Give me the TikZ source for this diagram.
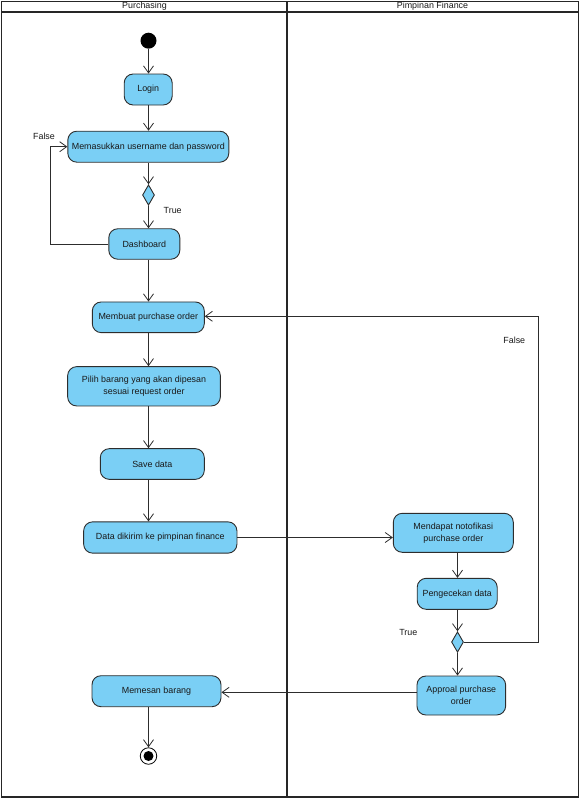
\documentclass[tikz,border=0pt]{standalone}
\usepackage{fontspec}
\setmainfont{Liberation Sans}
\usetikzlibrary{arrows.meta,shapes.geometric}
\definecolor{actfill}{RGB}{122,207,245}
\definecolor{actline}{RGB}{45,45,45}
\definecolor{txt}{RGB}{25,25,25}
\begin{document}
\begin{tikzpicture}[x=1pt,y=-1pt,
  font=\fontsize{8.9}{12}\selectfont,
  act/.style={draw=actline, fill=actfill, rounded corners=9pt, line width=0.9pt,
    inner sep=0pt, align=center, text=txt},
  dec/.style={diamond, draw=actline, fill=actfill, line width=0.9pt, inner sep=0pt,
    minimum width=12pt, minimum height=20.5pt},
  flow/.style={draw=actline, line width=0.8pt, -{Straight Barb[length=7pt,width=10pt]}},
  plain/.style={draw=actline, line width=0.8pt},
  lane/.style={draw=black!85, line width=1.6pt},
  lbl/.style={text=txt, inner sep=0pt}
]
\useasboundingbox (0,0) rectangle (582,800);

% swimlanes
\draw[lane] (1.5,1.5) rectangle (578.5,797);
\draw[lane] (1.5,12) -- (578.5,12);
\draw[lane] (287,1.5) -- (287,797);
\node[lbl] (h1) at (144.5,6.6) {Purchasing};
\node[lbl] (h2) at (432.5,6.6) {Pimpinan Finance};

% column coordinates
\coordinate (cx) at (148.5,0);
\coordinate (fx) at (457.5,0);

% nodes
\node[circle, fill=black, minimum size=16pt, inner sep=0pt] (start) at (148.5,40.7) {};
\node[act, minimum width=48pt, minimum height=31pt] (login) at (148.2,89.5) {Login};
\node[act, minimum width=161pt, minimum height=31pt] (mem) at (148.3,146.7) {Memasukkan username dan password};
\node[dec] (d1) at (148.5,195) {};
\node[act, minimum width=71pt, minimum height=30.5pt] (dash) at (144.3,244) {Dashboard};
\node[act, minimum width=112pt, minimum height=30.7pt] (po) at (148.3,317.3) {Membuat purchase order};
\node[act, minimum width=152.7pt, minimum height=39.3pt] (pilih) at (144,386.3) {Pilih barang yang akan dipesan\\sesuai request order};
\node[act, minimum width=104pt, minimum height=30.7pt] (save) at (152.3,464) {Save data};
\node[act, minimum width=153.3pt, minimum height=31.3pt] (data) at (160.3,537.5) {Data dikirim ke pimpinan finance};
\node[act, minimum width=120pt, minimum height=39pt] (mend) at (453.3,532.8) {Mendapat notofikasi\\purchase order};
\node[act, minimum width=80pt, minimum height=31pt] (peng) at (457.2,593.8) {Pengecekan data};
\node[dec] (d2) at (457.5,642) {};
\node[act, minimum width=88.7pt, minimum height=39pt] (appr) at (461.3,695.5) {Approal purchase\\order};
\node[act, minimum width=129pt, minimum height=31pt] (mb) at (156.5,691.2) {Memesan barang};
\node[circle, draw=black, fill=white, line width=0.8pt, minimum size=16.5pt, inner sep=0pt] (end) at (148.5,756) {};
\node[circle, fill=black, minimum size=10pt, inner sep=0pt] (endin) at (end) {};

% labels
\node[lbl] (lf1) at (44,136.5) {False};
\node[lbl] (lt1) at (172.7,210) {True};
\node[lbl] (lf2) at (514.3,340) {False};
\node[lbl] (lt2) at (408.3,632.3) {True};

% connectors
\draw[flow] (start) -- (cx |- login.north);
\draw[flow] (cx |- login.south) -- (cx |- mem.north);
\draw[flow] (cx |- mem.south) -- (d1.north);
\draw[flow] (d1.south) -- (cx |- dash.north);
\draw[flow] (dash.west) -- ++(-57.7,0) |- (mem.west);
\draw[flow] (cx |- dash.south) -- (cx |- po.north);
\draw[flow] (cx |- po.south) -- (cx |- pilih.north);
\draw[flow] (cx |- pilih.south) -- (cx |- save.north);
\draw[flow] (cx |- save.south) -- (cx |- data.north);
\draw[flow] (data.east) -- (data.east -| mend.west);
\draw[flow] (fx |- mend.south) -- (fx |- peng.north);
\draw[flow] (fx |- peng.south) -- (d2.north);
\draw[flow] (d2.south) -- (fx |- appr.north);
\draw[flow] (d2.east) -- (538.5,642) |- ([yshift=1pt]po.east);
\draw[flow] (appr.west |- 0,692.3) -- (mb.east |- 0,692.3);
\draw[flow] (cx |- mb.south) -- (end.north);
\end{tikzpicture}
\end{document}
